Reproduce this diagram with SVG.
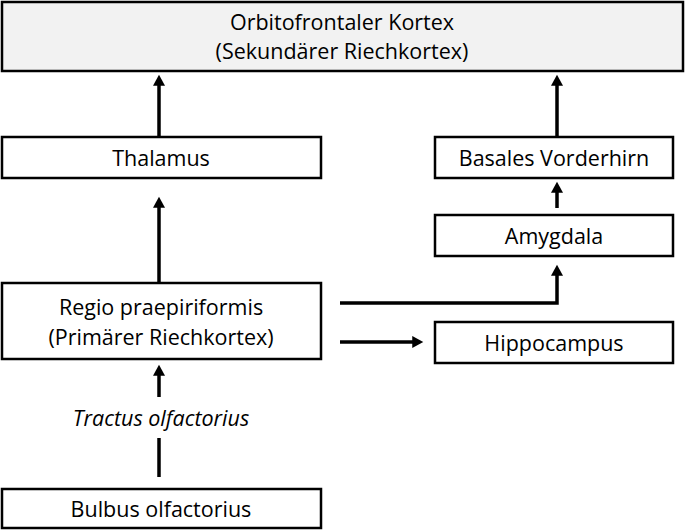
<svg xmlns="http://www.w3.org/2000/svg" width="685" height="531" viewBox="0 0 685 531">
<defs>
<style>
.box{fill:#fff;stroke:#000;stroke-width:2.5}
.grey{fill:#f2f2f2}
text{font-family:"Open Sans","Liberation Sans",Arial,sans-serif;font-size:21.5px;fill:#000;text-anchor:middle}
.it{font-style:italic}
.c{stroke:#000;stroke-width:3.5;fill:none}
</style>
<marker id="ah" markerWidth="4" markerHeight="4" refX="0.5" refY="1.72" orient="auto" markerUnits="strokeWidth">
<path d="M0,0 L3.15,1.72 L0,3.44 Z" fill="#000"/>
</marker>
</defs>
<g id="ofc"><rect class="box grey" x="2" y="2" width="681" height="69"/><text x="342" y="30">Orbitofrontaler Kortex</text><text x="342" y="59">(Sekundärer Riechkortex)</text></g>
<g id="thalamus"><rect class="box" x="2" y="137" width="319" height="41"/><text x="161" y="166">Thalamus</text></g>
<g id="basales"><rect class="box" x="435" y="137" width="238" height="41"/><text x="554" y="166">Basales Vorderhirn</text></g>
<g id="amygdala"><rect class="box" x="435" y="215" width="238" height="41"/><text x="554" y="244">Amygdala</text></g>
<g id="hippocampus"><rect class="box" x="435" y="322" width="238" height="41"/><text x="554" y="351">Hippocampus</text></g>
<g id="regio"><rect class="box" x="2" y="283" width="319" height="76"/><text x="161" y="315">Regio praepiriformis</text><text x="161" y="345">(Primärer Riechkortex)</text></g>
<g id="bulbus"><rect class="box" x="2" y="489" width="319" height="39"/><text x="161" y="517">Bulbus olfactorius</text></g>
<g id="tractus"><text class="it" x="161" y="426">Tractus olfactorius</text></g>
<g id="connectors">
<line class="c" x1="159" y1="137" x2="159" y2="84" marker-end="url(#ah)"/>
<line class="c" x1="557" y1="137" x2="557" y2="84" marker-end="url(#ah)"/>
<line class="c" x1="159" y1="283" x2="159" y2="206" marker-end="url(#ah)"/>
<line class="c" x1="557" y1="208" x2="557" y2="191" marker-end="url(#ah)"/>
<polyline class="c" points="340,303 557,303 557,274" marker-end="url(#ah)"/>
<line class="c" x1="340" y1="342" x2="414" y2="342" marker-end="url(#ah)"/>
<line class="c" x1="159" y1="477" x2="159" y2="438"/>
<line class="c" x1="159" y1="397" x2="159" y2="374" marker-end="url(#ah)"/>
</g>
</svg>
